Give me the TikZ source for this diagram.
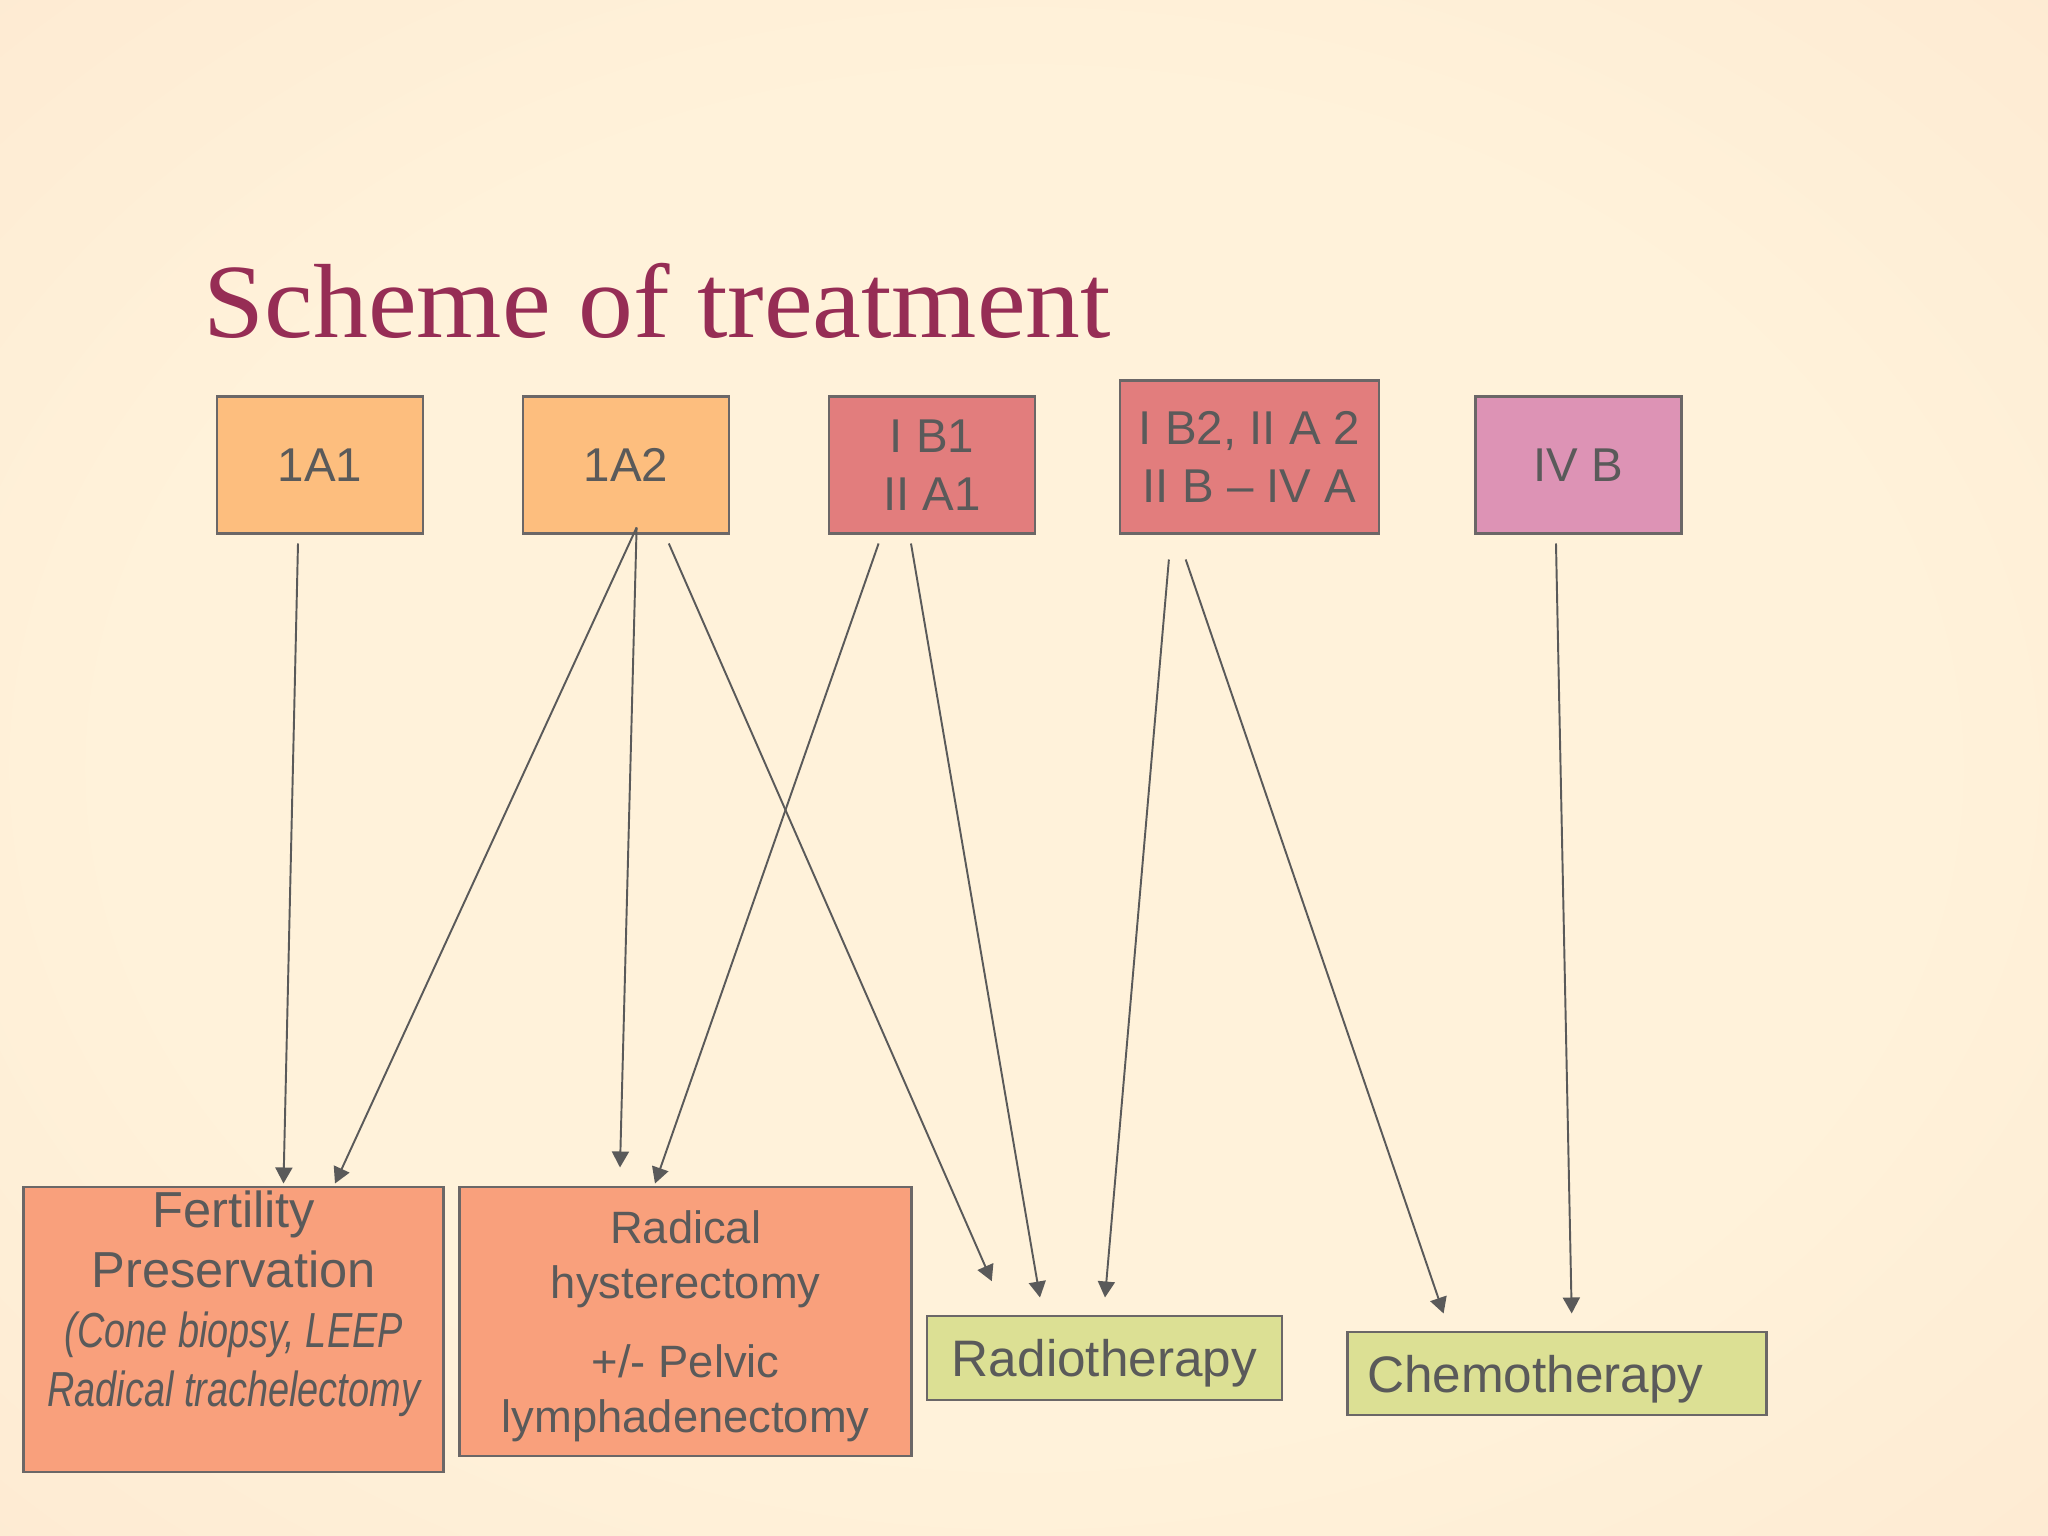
\documentclass[tikz,border=0pt]{standalone}
\usepackage{fontspec}
\usepackage{graphicx}
\setmainfont{Liberation Serif}
\newfontfamily\boxfont{Liberation Sans}
\usetikzlibrary{arrows.meta}

\definecolor{bginner}{HTML}{FFF2DA}
\definecolor{bgedge}{HTML}{FCE4CC}
\definecolor{bgouter}{HTML}{F8D4B8}
\definecolor{titlered}{HTML}{962D55}
\definecolor{boxline}{HTML}{6B6767}
\definecolor{boxtext}{HTML}{5A5A5A}
\definecolor{earlyfill}{HTML}{FDBE7E}
\definecolor{midfill}{HTML}{E27D7D}
\definecolor{latefill}{HTML}{DD93B5}
\definecolor{surgfill}{HTML}{F9A07C}
\definecolor{therfill}{HTML}{DCE094}

\pgfdeclareradialshading{slidebg}{\pgfpoint{0bp}{0bp}}{color(0bp)=(bginner); color(22bp)=(bginner);
  color(48bp)=(bgedge); color(72bp)=(bgouter)}

\tikzset{
  stage/.style={draw=boxline, line width=0.85pt, minimum width=2.06cm, minimum height=1.37cm,
    inner sep=0pt, align=center, text=boxtext, font=\boxfont\fontsize{13.5}{16.5}\selectfont},
  treat/.style={draw=boxline, line width=0.85pt, inner sep=0pt, text=boxtext},
  arr/.style={draw=boxtext, line width=0.55pt, -{Triangle[length=0.16cm,width=0.17cm]}}
}

\begin{document}
\begin{tikzpicture}
        \useasboundingbox (0,0) rectangle (20.48,-15.36);
        \shade[shading=slidebg] (0,0) rectangle (20.48,-15.36);
        \node[anchor=base west, inner sep=0pt, text=titlered, font=\fontsize{30}{36}\selectfont]
          (title) at (2.03,-3.38) {\scalebox{1.04}[1]{Scheme of treatment}};
        % stages
        \node[stage, fill=earlyfill] (a1) at (3.20,-4.65) {1A1};
        \node[stage, fill=earlyfill] (a2) at (6.26,-4.65) {1A2};
        \node[stage, fill=midfill] (b1) at (9.32,-4.65) {I B1\\II A1};
        \node[stage, fill=midfill, minimum width=2.59cm, minimum height=1.53cm]
          (b2) at (12.495,-4.57) {I B2, II A 2\\II B \textendash{} IV A};
        \node[stage, fill=latefill] (ivb) at (15.78,-4.65) {IV B};
        % treatments
        \node[treat, fill=surgfill, minimum width=4.20cm, minimum height=2.85cm] (fert) at (2.337,-13.295) {};
        \node[align=center, inner sep=0pt, text=boxtext, font=\boxfont\fontsize{14.4}{17}\selectfont]
          (fertlabel) at (2.337,-13.04) {Fertility\\Preservation\\
            \scalebox{0.77}[1]{\fontsize{14}{17}\selectfont\itshape (Cone biopsy, LEEP}\\
            \scalebox{0.77}[1]{\fontsize{14}{17}\selectfont\itshape Radical trachelectomy}};
        \node[treat, fill=surgfill, minimum width=4.52cm, minimum height=2.69cm] (radhyst) at (6.857,-13.215) {};
        \node[align=center, inner sep=0pt, text=boxtext, font=\boxfont\fontsize{12.9}{15.6}\selectfont]
          (radlabel) at (6.857,-13.26) {Radical\\hysterectomy\\[7pt]+/- Pelvic\\lymphadenectomy};
        \node[treat, fill=therfill, minimum width=3.55cm, minimum height=0.84cm, text depth=0pt,
          font=\boxfont\fontsize{14.6}{17}\selectfont] (radio) at (11.045,-13.58) {Radiotherapy};
        \node[treat, fill=therfill, minimum height=0.83cm, inner xsep=0.2cm, text width=3.79cm, align=left,
          text depth=0pt, font=\boxfont\fontsize{14.6}{17}\selectfont] (chemo) at (15.565,-13.735) {Chemotherapy};
        % connectors
        \foreach \from/\fx/\fy/\to/\tx/\ty in {a1/-0.22/-0.085/fert/0.498/0.02,
            a2/0.106/0.075/fert/1.013/0.02, a2/0.106/0.075/radhyst/-0.657/0.18,
            a2/0.428/-0.085/radio/-1.127/0.333, b1/-0.534/-0.085/radhyst/-0.307/0.02,
            b1/-0.21/-0.085/radio/-0.645/0.17, b2/-0.806/-0.245/radio/0.005/0.17,
            b2/-0.638/-0.245/chemo/-1.129/0.17, ivb/-0.22/-0.085/chemo/0.152/0.17} {
            \draw[arr] ([shift={(\fx,\fy)}]\from.south) -- ([shift={(\tx,\ty)}]\to.north);
          }
      \end{tikzpicture}
\end{document}
